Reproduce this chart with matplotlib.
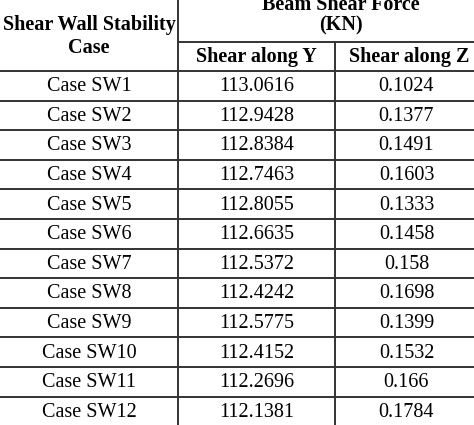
import matplotlib.pyplot as plt

cases = ["Case SW1", "Case SW2", "Case SW3", "Case SW4", "Case SW5", "Case SW6",
         "Case SW7", "Case SW8", "Case SW9", "Case SW10", "Case SW11", "Case SW12"]
shear_y = ["113.0616", "112.9428", "112.8384", "112.7463", "112.8055", "112.6635",
           "112.5372", "112.4242", "112.5775", "112.4152", "112.2696", "112.1381"]
shear_z = ["0.1024", "0.1377", "0.1491", "0.1603", "0.1333", "0.1458",
           "0.158", "0.1698", "0.1399", "0.1532", "0.166", "0.1784"]

plt.rcParams["font.family"] = ["Liberation Serif", "DejaVu Serif"]

W, H = 474, 425
fig = plt.figure(figsize=(W / 100, H / 100), dpi=100)
ax = fig.add_axes([0, 0, 1, 1])
ax.set_xlim(0, W)
ax.set_ylim(H, 0)
ax.axis("off")

x0, x1, x2, x3 = -2, 178, 335, 480
y_sub, y_head, row_h = 42, 71, 29.6
lw = 1.4
col = "#333333"

# grid lines
ax.plot([x1, x1], [0, H], color=col, lw=lw)
ax.plot([x2, x2], [y_sub, H], color=col, lw=lw)
ax.plot([x1, x3], [y_sub, y_sub], color=col, lw=lw)
for i in range(len(cases) + 1):
    y = y_head + i * row_h
    ax.plot([x0, x3], [y, y], color=col, lw=lw)

fs = 14.5
ax.text((x0 + x1) / 2 + 1, 36, "Shear Wall Stability\nCase", ha="center", va="center",
        fontsize=fs, fontweight="bold", linespacing=1.2)
ax.text((x1 + x3) / 2 + 12, 15, "Beam Shear Force\n(KN)", ha="center", va="center",
        fontsize=fs, fontweight="bold", linespacing=1.05)
ax.text((x1 + x2) / 2, 57, "Shear along Y", ha="center", va="center", fontsize=fs, fontweight="bold")
ax.text((x2 + x3) / 2 + 2, 57, "Shear along Z", ha="center", va="center", fontsize=fs, fontweight="bold")

for i, (c, sy, sz) in enumerate(zip(cases, shear_y, shear_z)):
    yc = y_head + (i + 0.5) * row_h + 1
    ax.text((x0 + x1) / 2 + 1, yc, c, ha="center", va="center", fontsize=fs)
    ax.text((x1 + x2) / 2, yc, sy, ha="center", va="center", fontsize=fs)
    ax.text((x2 + 474) / 2 + 2, yc, sz, ha="center", va="center", fontsize=fs)

fig.savefig("out.png", dpi=100)
